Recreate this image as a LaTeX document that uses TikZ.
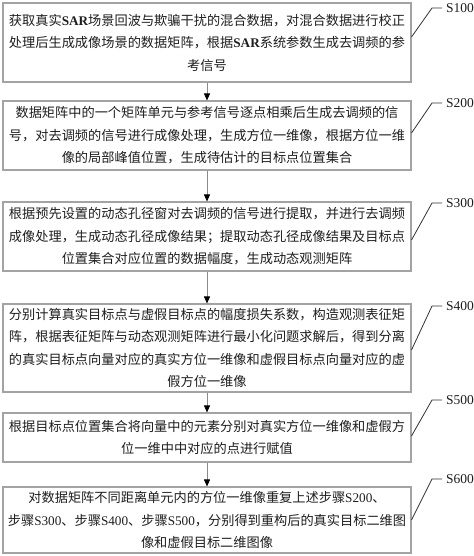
\documentclass[tikz,border=0pt]{standalone}
\usepackage{fontspec}
\setmainfont{Liberation Serif}
\newfontfamily\cjkfont{Noto Sans CJK SC}
\usetikzlibrary{arrows.meta}
\definecolor{boxgray}{HTML}{A3A3A3}
\definecolor{arrgray}{HTML}{8A8A8A}
\definecolor{leadgray}{HTML}{333333}
\definecolor{txt}{HTML}{1E1E1E}
\begin{document}
\begin{tikzpicture}[x=1bp,y=-1bp,
  stepbox/.style={draw=boxgray, line width=1.1bp, minimum width=408bp, inner sep=0pt,
    align=center, text=txt, font=\cjkfont\fontsize{13.2bp}{22.5bp}\selectfont},
  flow/.style={draw=arrgray, line width=0.9bp, -{Triangle[length=7bp,width=6bp,color=black,fill=black]}},
  lead/.style={draw=leadgray, line width=0.8bp},
  lbl/.style={anchor=west, inner sep=0pt, text=txt, font=\rmfamily\fontsize{13.5bp}{15bp}\selectfont}]
\useasboundingbox (0,0) rectangle (474,556);
\fill[white] (0,0) rectangle (474,556);

\node[stepbox, minimum height=79bp] (b1) at (207,42.5)
  {获取真实{\rmfamily\bfseries SAR}场景回波与欺骗干扰的混合数据，对混合数据进行校正\\
   处理后生成成像场景的数据矩阵，根据{\rmfamily\bfseries SAR}系统参数生成去调频的参\\
   考信号};
\node[stepbox, minimum height=69bp] (b2) at (207,135.5)
  {数据矩阵中的一个矩阵单元与参考信号逐点相乘后生成去调频的信\\
   号，对去调频的信号进行成像处理，生成方位一维像，根据方位一维\\
   像的局部峰值位置，生成待估计的目标点位置集合};
\node[stepbox, minimum height=69bp] (b3) at (207,236.5)
  {根据预先设置的动态孔径窗对去调频的信号进行提取，并进行去调频\\
   成像处理，生成动态孔径成像结果；提取动态孔径成像结果及目标点\\
   位置集合对应位置的数据幅度，生成动态观测矩阵};
\node[stepbox, minimum height=88bp] (b4) at (207,348)
  {分别计算真实目标点与虚假目标点的幅度损失系数，构造观测表征矩\\
   阵，根据表征矩阵与动态观测矩阵进行最小化问题求解后，得到分离\\
   的真实目标点向量对应的真实方位一维像和虚假目标点向量对应的虚\\
   假方位一维像};
\node[stepbox, minimum height=49bp] (b5) at (207,437.5)
  {根据目标点位置集合将向量中的元素分别对真实方位一维像和虚假方\\
   位一维中中对应的点进行赋值};
\node[stepbox, minimum height=66bp] (b6) at (207,520)
  {对数据矩阵不同距离单元内的方位一维像重复上述步骤{\rmfamily S200}、\\
   步骤{\rmfamily S300}、步骤{\rmfamily S400}、步骤{\rmfamily S500}，分别得到重构后的真实目标二维图\\
   像和虚假目标二维图像};

\draw[flow] (b1) -- (b2);
\draw[flow] (b2) -- (b3);
\draw[flow] (b3) -- (b4);
\draw[flow] (b4) -- (b5);
\draw[flow] (b5) -- (b6);

\node[lbl] (l1) at (446,8) {S100};
\node[lbl] (l2) at (446,103) {S200};
\node[lbl] (l3) at (446,203) {S300};
\node[lbl] (l4) at (446,306) {S400};
\node[lbl] (l5) at (446,400) {S500};
\node[lbl] (l6) at (446,479) {S600};

\coordinate (k1) at (411.5,37);
\coordinate (k2) at (411.5,133);
\coordinate (k3) at (411.5,240);
\coordinate (k4) at (411.5,350);
\coordinate (k5) at (411.5,436);
\coordinate (k6) at (411.5,520);

\draw[lead] (k1) -- (432,8) -- ([xshift=-4bp]l1.west);
\draw[lead] (k2) -- (432,103) -- ([xshift=-4bp]l2.west);
\draw[lead] (k3) -- (432,203) -- ([xshift=-4bp]l3.west);
\draw[lead] (k4) -- (432,306) -- ([xshift=-4bp]l4.west);
\draw[lead] (k5) -- (432,400) -- ([xshift=-4bp]l5.west);
\draw[lead] (k6) -- (432,479) -- ([xshift=-4bp]l6.west);
\end{tikzpicture}
\end{document}
